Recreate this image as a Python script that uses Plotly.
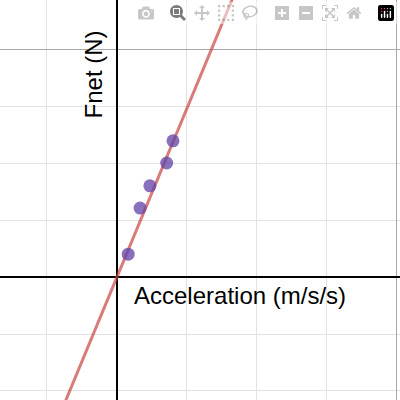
import plotly.graph_objects as go

acc = [0.16, 0.33, 0.47, 0.71, 0.80]
fnet = [0.40, 1.21, 1.60, 2.00, 2.39]
fit_x = [-1.7, 4.1]
slope, intercept = 2.96, 0.0
fit_y = [slope * v + intercept for v in fit_x]

fig = go.Figure()
fig.add_trace(go.Scatter(x=fit_x, y=fit_y, mode="lines",
                         line=dict(color="rgba(199,68,64,0.7)", width=3), hoverinfo="skip"))
fig.add_trace(go.Scatter(x=acc, y=fnet, mode="markers",
                         marker=dict(color="rgba(96,66,166,0.75)", size=13, line=dict(width=0))))

ax = dict(showticklabels=False, ticks="", dtick=4, tick0=0, showgrid=True,
          gridcolor="#a8a8a8", gridwidth=1, zeroline=True, zerolinecolor="black",
          zerolinewidth=1.5, showline=False,
          minor=dict(dtick=1, tick0=0, showgrid=True, gridcolor="#e2e2e2", gridwidth=1))
fig.update_layout(
    width=400, height=400, margin=dict(l=0, r=0, t=0, b=0),
    plot_bgcolor="white", paper_bgcolor="white", showlegend=False,
    xaxis=dict(range=[-1.671, 4.043], **ax),
    yaxis=dict(range=[-2.158, 4.86], **ax),
    font=dict(family="Liberation Sans, Arial", size=24, color="black"),
    annotations=[
        dict(text="Acceleration (m/s/s)", x=1.76, y=0, xref="x", yref="y",
             xanchor="center", yanchor="top", showarrow=False, yshift=-3),
        dict(text="Fnet (N)", x=0, y=4.86, xref="x", yref="y", textangle=-90,
             xanchor="right", yanchor="top", showarrow=False, xshift=-8, yshift=-28),
    ],
)
fig.write_html("out.html", post_script="document.body.style.margin='0';")
